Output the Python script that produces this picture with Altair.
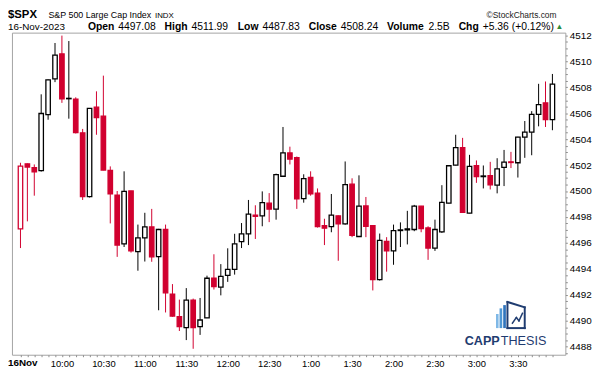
import json
import altair as alt
import pandas as pd

# ---------------- data (5-minute bars, 16-Nov-2023, $SPX) ----------------
opens = [4497.08, 4502.10, 4501.80, 4501.57, 4505.90, 4508.65, 4510.58, 4507.12, 4507.08, 4504.49,
         4499.56, 4506.47, 4505.78, 4501.60, 4499.69, 4495.93, 4500.00, 4495.33, 4496.39, 4497.23,
         4494.94, 4497.03, 4492.05, 4490.30, 4489.46, 4491.59, 4489.54, 4490.22, 4493.27, 4492.58,
         4493.50, 4493.95, 4496.09, 4496.70, 4498.14, 4498.09, 4499.06, 4498.60, 4501.14, 4502.94,
         4502.58, 4499.41, 4501.06, 4499.84, 4497.33, 4497.25, 4498.09, 4497.46, 4500.53, 4496.49,
         4498.85, 4497.33, 4493.17, 4496.11, 4495.38, 4496.95, 4497.00, 4497.03, 4498.83, 4497.15,
         4495.60, 4496.85, 4499.06, 4502.00, 4503.35, 4498.30, 4501.95, 4501.11, 4501.19, 4500.45,
         4501.82, 4502.25, 4502.18, 4504.16, 4504.54, 4505.91, 4506.80, 4505.50]
highs = [4502.18, 4502.12, 4502.05, 4507.46, 4508.60, 4511.42, 4511.99, 4511.57, 4507.23, 4504.79,
         4506.40, 4507.69, 4508.90, 4501.90, 4500.00, 4501.52, 4500.02, 4497.41, 4498.32, 4498.62,
         4497.08, 4497.41, 4492.82, 4491.62, 4492.51, 4491.70, 4491.75, 4493.47, 4495.12, 4494.36,
         4495.58, 4496.70, 4497.53, 4499.31, 4498.90, 4499.97, 4499.84, 4501.34, 4504.94, 4503.42,
         4502.66, 4501.29, 4501.52, 4500.20, 4497.86, 4499.77, 4498.12, 4502.28, 4500.98, 4501.21,
         4499.54, 4497.35, 4496.72, 4496.44, 4497.41, 4497.58, 4498.47, 4498.93, 4498.85, 4497.28,
         4497.79, 4500.45, 4501.97, 4504.34, 4504.10, 4502.79, 4502.36, 4501.97, 4502.25, 4502.53,
         4503.17, 4503.02, 4504.18, 4505.40, 4506.16, 4508.27, 4508.45, 4509.03]
lows = [4495.60, 4497.66, 4499.64, 4501.50, 4505.50, 4508.40, 4506.80, 4505.58, 4504.44, 4499.31,
        4499.50, 4504.34, 4501.60, 4497.50, 4494.92, 4495.68, 4495.25, 4493.85, 4494.56, 4494.54,
        4490.80, 4490.63, 4490.30, 4489.20, 4488.50, 4487.83, 4488.90, 4490.20, 4492.40, 4491.95,
        4492.99, 4493.55, 4495.60, 4495.83, 4496.30, 4497.28, 4497.60, 4497.79, 4501.09, 4502.05,
        4498.62, 4499.10, 4499.64, 4497.18, 4495.83, 4496.82, 4494.62, 4497.40, 4496.44, 4496.45,
        4496.44, 4492.33, 4493.09, 4493.78, 4494.31, 4495.68, 4495.88, 4496.90, 4496.82, 4494.69,
        4495.38, 4496.77, 4499.04, 4501.98, 4498.33, 4498.28, 4500.63, 4500.20, 4500.12, 4499.82,
        4500.38, 4501.77, 4501.04, 4502.56, 4502.76, 4504.99, 4504.94, 4504.69]
closes = [4501.92, 4501.85, 4501.47, 4505.98, 4508.57, 4510.48, 4507.10, 4507.15, 4504.51, 4499.56,
          4506.37, 4505.66, 4501.62, 4499.79, 4495.83, 4499.97, 4495.38, 4496.39, 4497.23, 4494.92,
          4497.03, 4492.15, 4490.35, 4489.54, 4491.59, 4489.46, 4490.05, 4493.27, 4492.63, 4493.42,
          4493.95, 4495.93, 4496.70, 4498.22, 4498.04, 4499.10, 4498.60, 4501.26, 4502.94, 4502.46,
          4499.39, 4500.96, 4499.79, 4497.25, 4497.13, 4498.14, 4497.46, 4500.50, 4496.57, 4498.83,
          4497.28, 4493.17, 4496.19, 4495.38, 4496.95, 4497.00, 4497.08, 4498.83, 4497.10, 4495.60,
          4497.03, 4499.13, 4501.95, 4503.35, 4498.35, 4501.90, 4501.11, 4501.16, 4500.48, 4501.70,
          4502.23, 4502.20, 4504.16, 4504.54, 4505.91, 4506.67, 4505.50, 4508.24]
prev_close = 4502.88

time_label_bars = [6, 12, 18, 24, 30, 36, 42, 48, 54, 60, 66, 72]
time_labels = ["10:00", "10:30", "11:00", "11:30", "12:00", "12:30",
               "1:00", "1:30", "2:00", "2:30", "3:00", "3:30"]
price_labels = [4488, 4490, 4492, 4494, 4496, 4498, 4500, 4502, 4504, 4506, 4508, 4510, 4512]

header_names = ["Open", "High", "Low", "Close", "Volume", "Chg"]
header_values = ["4497.08", "4511.99", "4487.83", "4508.24", "2.5B", "+5.36 (+0.12%)"]

# ---------------- styling ----------------
RED = "#d1002f"
BLACK = "#000000"
NAVY = "#1f3c70"
GREY = "#a3a3a3"
FONT = "Liberation Sans"

n = len(opens)
prev = [prev_close] + closes[:-1]
df = pd.DataFrame({"bar": list(range(n)), "open": opens, "high": highs,
                   "low": lows, "close": closes})
df["lo"] = df[["open", "close"]].min(axis=1)
df["hi"] = df[["open", "close"]].max(axis=1)
df["edge"] = [RED if c < p else BLACK for c, p in zip(closes, prev)]
df["face"] = [e if c < o else "#ffffff" for e, c, o in zip(df["edge"], closes, opens)]

x_scale = alt.Scale(domain=[-0.52, 78.16], nice=False, zero=False)
y_scale = alt.Scale(domain=[4487.37, 4512.218], nice=False, zero=False)

x_axis = alt.Axis(
    values=list(range(n)),
    labelExpr=(f"indexof({json.dumps(time_label_bars)}, datum.value) >= 0 ? "
               f"{json.dumps(time_labels)}[indexof({json.dumps(time_label_bars)}, datum.value)] : ''"),
    tickSize=2, tickColor="#8c8c8c", labelFontSize=9.5, labelColor="black",
    labelPadding=2, labelFont=FONT, domain=False, grid=False, title=None,
    labelOverlap=False, labelFlush=False,
)
minor_prices = [4487.5 + 0.5 * k for k in range(50)]
y_axis = alt.Axis(
    orient="right", values=minor_prices,
    labelExpr=f"indexof({json.dumps(price_labels)}, datum.value) >= 0 ? format(datum.value, 'd') : ''",
    tickSize=2, tickColor="#8c8c8c", labelFontSize=10, labelColor="black",
    labelPadding=2, labelFont=FONT, domain=False, grid=False, title=None,
    labelOverlap=False, labelBaseline="middle",
)

base = alt.Chart(df)
wicks = base.mark_rule(strokeWidth=1).encode(
    x=alt.X("bar:Q", scale=x_scale, axis=x_axis),
    y=alt.Y("low:Q", scale=y_scale, axis=y_axis),
    y2="high:Q",
    color=alt.Color("edge:N", scale=None),
)
bodies = base.mark_bar(size=4.5, strokeWidth=1.3).encode(
    x=alt.X("bar:Q", scale=x_scale, axis=x_axis),
    y=alt.Y("lo:Q", scale=y_scale, axis=y_axis),
    y2="hi:Q",
    fill=alt.Fill("face:N", scale=None),
    stroke=alt.Stroke("edge:N", scale=None),
)

# plot area top-left corner sits at page (12, 30.5)
OX, OY = 12, 30.5


def txt(text, x, y, size, weight="normal", color="black", align="left", font=FONT):
    return alt.Chart(pd.DataFrame({"t": [text]})).mark_text(
        align=align, baseline="alphabetic", fontSize=size, fontWeight=weight,
        color=color, font=font,
    ).encode(x=alt.value(x - OX), y=alt.value(y - OY), text="t:N")


def seg(x1, y1, x2, y2, color, width):
    return alt.Chart(pd.DataFrame({"k": [0]})).mark_rule(
        color=color, strokeWidth=width, strokeCap="square").encode(
        x=alt.value(x1 - OX), x2=alt.value(x2 - OX),
        y=alt.value(y1 - OY), y2=alt.value(y2 - OY))


def box(x1, y1, x2, y2, color):
    return alt.Chart(pd.DataFrame({"k": [0]})).mark_rect(color=color).encode(
        x=alt.value(x1 - OX), x2=alt.value(x2 - OX),
        y=alt.value(y1 - OY), y2=alt.value(y2 - OY))


layers = [wicks, bodies]

# header line 1
layers += [
    txt("$SPX", 8, 16, 11.5, weight="bold"),
    txt("S&P 500 Large Cap Index", 49, 16, 9),
    txt("INDX", 157, 16, 8),
    txt("\u00a9StockCharts.com", 564, 15.5, 8.5, align="right", color="#222222"),
]
# header line 2
layers.append(txt("16-Nov-2023", 8, 28, 10))
name_x = [89, 166.7, 240.9, 312.8, 392.3, 464.8]
value_x = [119.8, 194, 265.9, 345.4, 434.2, 489.2]
for nm, vl, nx, vx in zip(header_names, header_values, name_x, value_x):
    layers.append(txt(nm, nx, 28, 10.5, weight="bold"))
    layers.append(txt(vl, vx, 28, 10.5))
layers.append(txt("\u25b2", 567, 27, 8, color="#2e8b3a", align="center"))

# date label at start of x axis
layers.append(txt("16Nov", 8, 368.5, 10, weight="bold"))

# watermark logo
layers += [
    box(502.7, 315.7, 505.3, 330, "#7fb8e6"),
    box(506.3, 310, 509, 330, "#4f98d6"),
    box(510, 306.7, 512.7, 330, "#2f74bd"),
    seg(514.3, 303.5, 514.3, 330, NAVY, 2),
    seg(514.3, 330, 531.8, 330, NAVY, 2),
    seg(531.8, 309, 531.8, 330, NAVY, 2),
    seg(514.3, 303.5, 531.8, 309, NAVY, 2),
    seg(519.3, 325, 523.3, 319.3, NAVY, 1.5),
    seg(523.3, 319.3, 526, 322.7, NAVY, 1.5),
    seg(526, 322.7, 529.5, 315, NAVY, 1.5),
    txt("CAPP", 471, 347.3, 12.8, weight="bold", color=NAVY),
    txt("THESIS", 507.5, 347.3, 12.8, color=NAVY),
]

chart = alt.layer(*layers).properties(
    width=561, height=326.5,
    autosize=alt.AutoSizeParams(type="none"),
    padding={"left": 4, "top": 22.5, "right": 27, "bottom": 13},
).configure_view(stroke=GREY, strokeWidth=1)

chart.save("out.html", embed_options={"renderer": "svg", "actions": False})
